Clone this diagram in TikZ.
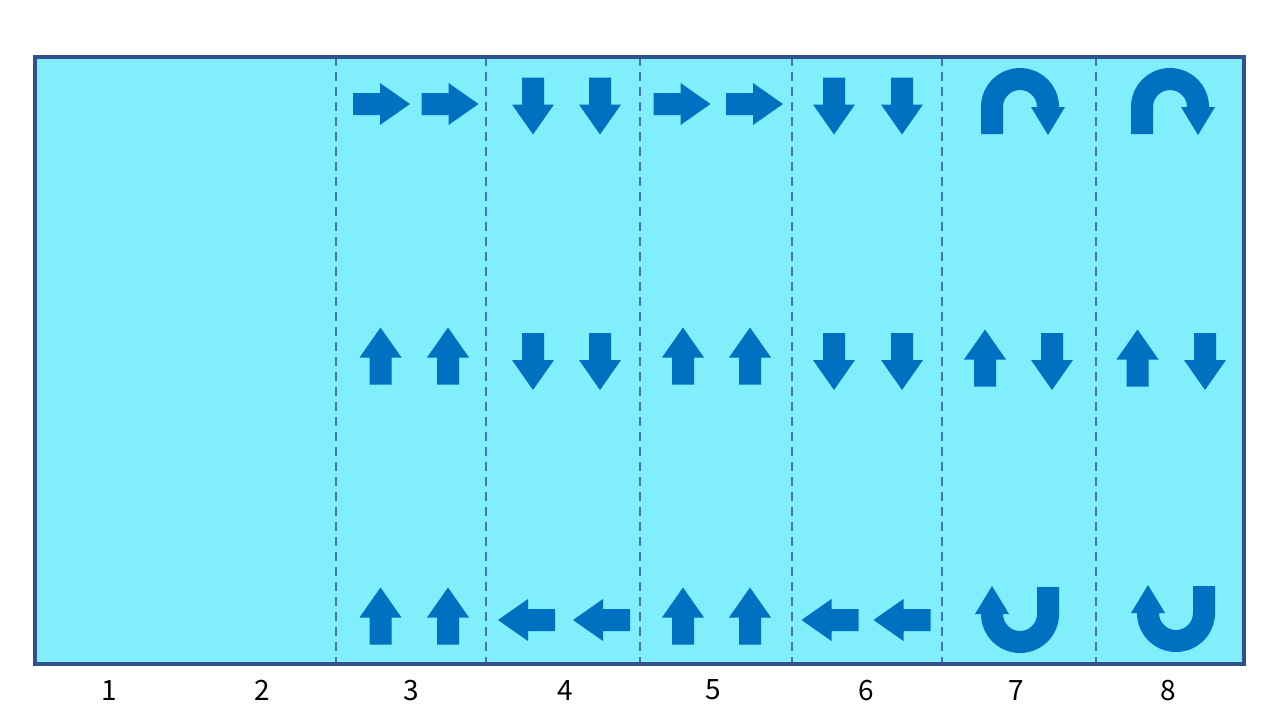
\documentclass[tikz,border=0pt]{standalone}
\usepackage{fontspec}
\setmainfont{Noto Sans CJK JP}

\definecolor{poolfill}{RGB}{128,238,251}
\definecolor{poolframe}{RGB}{47,82,143}
\definecolor{lanedash}{RGB}{68,114,196}
\definecolor{arrowblue}{RGB}{0,112,192}

\tikzset{every picture/.style={line width=0.75pt}}
\tikzset{
  lanesep/.style={draw=lanedash, line width=1.2pt, dash pattern=on 4.5pt off 3pt},
  lanenum/.style={font=\fontsize{14}{16}\selectfont, inner sep=0pt},
  blockfill/.style={fill=arrowblue, draw=none},
  % straight block arrow, pointing right, centred on its origin
  barrow/.pic={
    \fill[blockfill] (-28.5,-11) -- (-1.5,-11) -- (-1.5,-21) -- (28.5,0)
      -- (-1.5,21) -- (-1.5,11) -- (-28.5,11) -- cycle;
  },
  % u-turn arrow, origin at the centre of the bend
  uturn/.pic={
    \fill[blockfill] (-39,-27) -- (-39,0) arc[start angle=180, end angle=0, radius=39]
      -- (45,0) -- (28,-28) -- (11,0) -- (17,0)
      arc[start angle=0, end angle=180, radius=17] -- (-17,-27) -- cycle;
  }
}

\begin{document}
\begin{tikzpicture}[x=0.5pt,y=0.5pt,yscale=-1]
\useasboundingbox (0,0) rectangle (1280,720);

%Shape: Rectangle [id:pool]
\fill[poolfill] (35,57) rectangle (1244,664);

%Straight Lines [id:lanes]
\foreach \xx in {336,486,640,792,942,1096}
  \draw[lanesep] (\xx,57) -- (\xx,664);

%Shape: Rectangle [id:poolborder]
\draw[poolframe, line width=1.9pt] (35,57) rectangle (1244,664);

%Top row
\pic at (381.5,104) {barrow};
\pic at (450,104) {barrow};
\pic[rotate=-90] at (533,106) {barrow};
\pic[rotate=-90] at (600,106) {barrow};
\pic at (682,104) {barrow};
\pic at (754.5,104) {barrow};
\pic[rotate=-90] at (834,106) {barrow};
\pic[rotate=-90] at (902,106) {barrow};
\pic at (1020,107) {uturn};
\pic at (1170,107) {uturn};

%Middle row
\pic[rotate=90] at (380.5,356) {barrow};
\pic[rotate=90] at (448,356) {barrow};
\pic[rotate=-90] at (533,361.5) {barrow};
\pic[rotate=-90] at (600,361.5) {barrow};
\pic[rotate=90] at (683,356) {barrow};
\pic[rotate=90] at (750,356) {barrow};
\pic[rotate=-90] at (834,361.5) {barrow};
\pic[rotate=-90] at (902,361.5) {barrow};
\pic[rotate=90] at (985,358) {barrow};
\pic[rotate=-90] at (1052,361.5) {barrow};
\pic[rotate=90] at (1137.5,358) {barrow};
\pic[rotate=-90] at (1205,361.5) {barrow};

%Bottom row
\pic[rotate=90] at (380.5,616) {barrow};
\pic[rotate=90] at (448,616) {barrow};
\pic[rotate=180] at (526.5,620) {barrow};
\pic[rotate=180] at (601.5,620) {barrow};
\pic[rotate=90] at (683,616) {barrow};
\pic[rotate=90] at (750,616) {barrow};
\pic[rotate=180] at (830,620) {barrow};
\pic[rotate=180] at (902,620) {barrow};
\pic[rotate=180] at (1020,614) {uturn};
\pic[rotate=180] at (1176,613) {uturn};

%Lane numbers
\node[lanenum] (num1) at (109,690) {1};
\node[lanenum] (num2) at (262,690) {2};
\node[lanenum] (num3) at (411,690) {3};
\node[lanenum] (num4) at (565,690) {4};
\node[lanenum] (num5) at (713,690) {5};
\node[lanenum] (num6) at (866,690) {6};
\node[lanenum] (num7) at (1016,690) {7};
\node[lanenum] (num8) at (1168,690) {8};

\end{tikzpicture}
\end{document}
